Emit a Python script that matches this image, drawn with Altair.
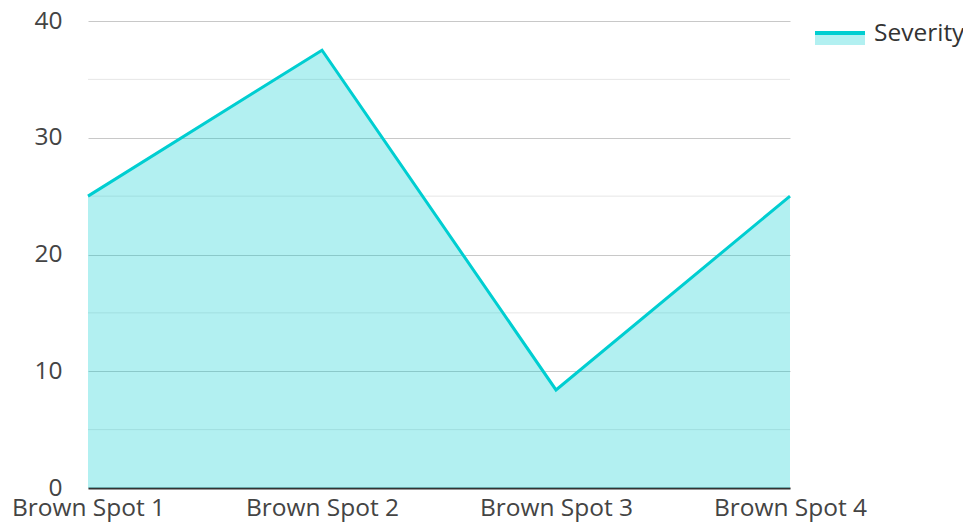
import altair as alt
import pandas as pd

categories = ["Brown Spot 1", "Brown Spot 2", "Brown Spot 3", "Brown Spot 4"]
severity = [25, 37.5, 8.4, 25]
major_ticks = [0, 10, 20, 30, 40]
minor_ticks = [5, 15, 25, 35]
series_name = "Severity"

LINE = "#00ced1"
FONT = "Open Sans"
FS = 24.5

df = pd.DataFrame({"cat": categories, "val": severity})
minor_df = pd.DataFrame({"v": minor_ticks})
legend_df = pd.DataFrame({"name": [series_name]})

x_enc = alt.X("cat:N", sort=categories,
              scale=alt.Scale(type="point", padding=0),
              axis=alt.Axis(title=None, labelAngle=0, labelFontSize=FS, labelColor="#444",
                            labelFont=FONT, ticks=False, domainColor="#333", domainWidth=2,
                            labelPadding=8, grid=False))
y_scale = alt.Scale(domain=[0, 40], nice=False)

minor = alt.Chart(minor_df).mark_rule(color="#e6e6e6", strokeWidth=1).encode(
    y=alt.Y("v:Q", scale=y_scale))

area = alt.Chart(df).mark_area(color=LINE, opacity=0.3).encode(
    x=x_enc,
    y=alt.Y("val:Q", scale=y_scale,
            axis=alt.Axis(title=None, values=major_ticks, labelFontSize=FS, labelColor="#444",
                          labelFont=FONT, ticks=False, domain=False, grid=True,
                          gridColor="#c8c8c8", gridWidth=1, labelPadding=26)))

line = alt.Chart(df).mark_line(color=LINE, strokeWidth=3).encode(
    x=alt.X("cat:N", sort=categories), y=alt.Y("val:Q", scale=y_scale))

leg_rect = alt.Chart(legend_df).mark_rect(color=LINE, opacity=0.3).encode(
    x=alt.value(727), x2=alt.value(777), y=alt.value(12), y2=alt.value(24))
leg_line = alt.Chart(legend_df).mark_rule(color=LINE, strokeWidth=4).encode(
    x=alt.value(727), x2=alt.value(777), y=alt.value(12))
leg_text = alt.Chart(legend_df).mark_text(align="left", baseline="middle", fontSize=FS,
                                          font=FONT, color="#333").encode(
    x=alt.value(786), y=alt.value(13), text="name:N")

chart = alt.layer(minor, area, line, leg_rect, leg_line, leg_text).properties(
    width=702, height=467,
    autosize=alt.AutoSizeParams(type="none"),
    padding={"left": 80, "top": 13, "right": 173, "bottom": 35},
).configure_view(stroke=None)

chart.save("out.html", embed_options={"renderer": "svg", "actions": False})
